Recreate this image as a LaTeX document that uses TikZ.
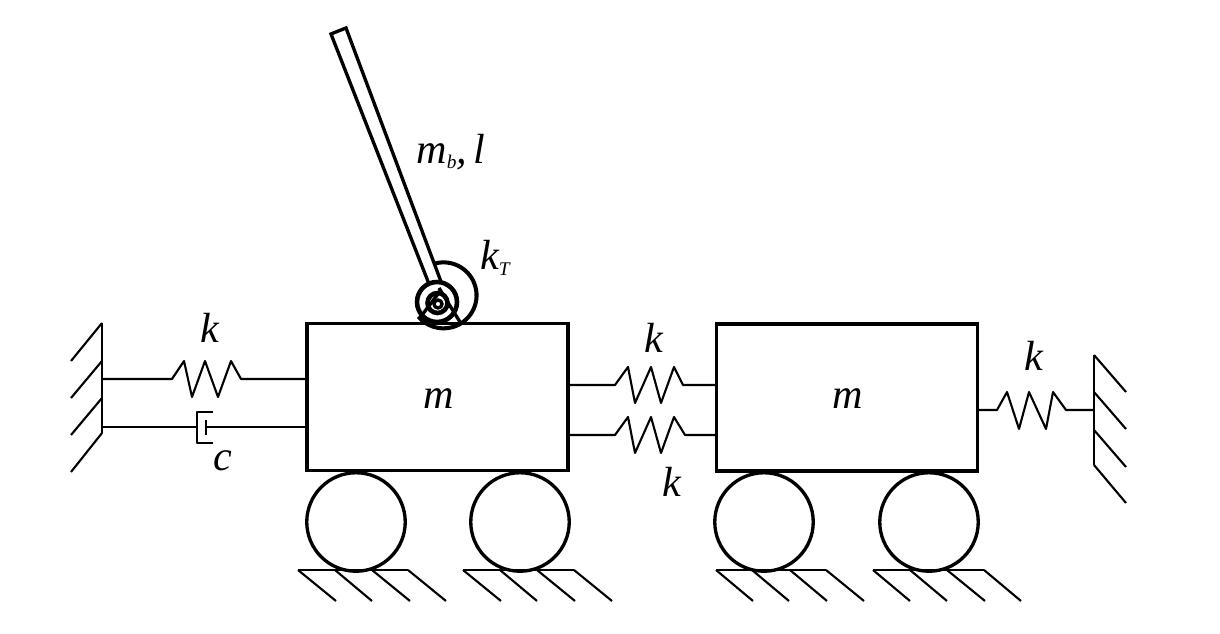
\documentclass[tikz,border=0pt]{standalone}
\usepackage{fontspec}
\setmainfont{Liberation Serif}
\tikzset{
  massbox/.style={draw, line width=2.1pt, minimum width=5.22cm, minimum height=2.94cm, outer sep=0pt, inner sep=0pt},
  wheel/.style={draw, circle, line width=1.9pt, minimum size=1.97cm, outer sep=0pt, inner sep=0pt},
  springline/.style={line width=1.2pt, line join=round},
  baseline/.style={line width=1.2pt},
  barline/.style={line width=1.9pt, line join=miter},
  hingeline/.style={line width=2.6pt},
  lab/.style={inner sep=0pt, font=\fontsize{24}{24}\selectfont\itshape}
}
\begin{document}
\begin{tikzpicture}[x=0.02cm, y=-0.02cm]

  \useasboundingbox (0, 0) rectangle (1220, 634);

  % masses and wheels
  \node [massbox] (massA) at (437.5, 397) {};
  \node [massbox] (massB) at (847, 397.5) {};
  \node [wheel] (wheelA) at (356, 522) {};
  \node [wheel] (wheelB) at (520, 522) {};
  \node [wheel] (wheelC) at (764, 522) {};
  \node [wheel] (wheelD) at (929, 522) {};

  % walls
  \draw[baseline] (102, 323) -- (102, 433);
  \draw[baseline] (102, 323) -- (71, 361);
  \draw[baseline] (102, 361) -- (71, 398);
  \draw[baseline] (102, 398) -- (71, 435);
  \draw[baseline] (102, 433) -- (71, 472);

  \draw[baseline] (1094, 355) -- (1094, 465);
  \draw[baseline] (1094, 355) -- (1126, 392);
  \draw[baseline] (1094, 392) -- (1126, 429);
  \draw[baseline] (1094, 430) -- (1126, 467);
  \draw[baseline] (1094, 465) -- (1126, 503);

  % ground
  \draw[baseline] (298, 570) -- (408, 570);
  \draw[baseline] (298, 570) -- (336, 601);
  \draw[baseline] (335, 570) -- (372, 601);
  \draw[baseline] (372, 570) -- (410, 601);
  \draw[baseline] (408, 570) -- (446, 601);

  \draw[baseline] (463, 570) -- (574, 570);
  \draw[baseline] (463, 570) -- (501, 601);
  \draw[baseline] (500, 570) -- (537, 601);
  \draw[baseline] (537, 570) -- (575, 601);
  \draw[baseline] (574, 570) -- (612, 601);

  \draw[baseline] (716, 570) -- (826, 570);
  \draw[baseline] (716, 570) -- (753, 601);
  \draw[baseline] (752, 570) -- (789, 601);
  \draw[baseline] (790, 570) -- (827, 601);
  \draw[baseline] (826, 570) -- (864, 601);

  \draw[baseline] (873, 570) -- (984, 570);
  \draw[baseline] (873, 570) -- (910, 601);
  \draw[baseline] (910, 570) -- (947, 601);
  \draw[baseline] (947, 570) -- (985, 601);
  \draw[baseline] (984, 570) -- (1021, 601);

  % springs
  \coordinate (wallAk) at (102, 379);
  \coordinate (wallAc) at (102, 427);
  \coordinate (wallBk) at (1094, 410);
  \coordinate (midtop) at (569, 385);
  \coordinate (midbot) at (569, 435);
  \coordinate (massBk) at (978, 410);

  \draw[springline] (wallAk) -- (172, 379) -- ++(12, -18) -- ++(8, 36) -- ++(13, -36) -- ++(13, 36) -- ++(13, -36) -- ++(10, 18) -- (massA.west |- wallAk);
  \draw[springline] (midtop) -- (615, 385) -- ++(13, -18) -- ++(7, 36) -- ++(16, -36) -- ++(10, 36) -- ++(13, -36) -- ++(9, 18) -- (massB.west |- midtop);
  \draw[springline] (midbot) -- (615, 435) -- ++(13, -18) -- ++(7, 36) -- ++(16, -36) -- ++(10, 36) -- ++(13, -36) -- ++(11, 18) -- (massB.west |- midbot);
  \draw[springline] (massBk) -- (997, 410) -- ++(10, -18) -- ++(12, 37) -- ++(10, -37) -- ++(17, 37) -- ++(7, -37) -- ++(13, 18) -- (wallBk);

  % damper
  \coordinate (pistonc) at (206, 427);
  \draw[springline] (wallAc) -- (197, 427);
  \draw[springline] (213, 412) -- (197, 412) -- (197, 443) -- (213, 443);
  \draw[line width=1.4pt] (206, 420) -- (206, 435);
  \draw[springline] (pistonc) -- (massA.west |- pistonc);

  % bar and hinge
  \draw[barline] (429, 284) -- (331, 34) -- (346, 28) -- (441.5, 283);
  \draw[line width=1.9pt] (441, 290) -- (422, 315);
  \draw[line width=1.9pt] (439, 288) -- (460, 322);
  \draw[hingeline] (437, 302) circle (20);
  \draw[hingeline] (437.5, 303) circle (10);
  \draw[line width=1.9pt] (438, 304) circle (4);
  \draw[line width=2.3pt] (435, 263.5) arc[start angle=-105, end angle=140, radius=33];

  % labels
  \node [lab] (labkA) at (210, 328) {k};
  \node [lab] (labc) at (223, 461) {c};
  \node [lab] (labkB) at (654, 338) {k};
  \node [lab] (labkC) at (672, 482) {k};
  \node [lab] (labkD) at (1034, 356) {k};
  \node [lab] (labmA) at (439, 399) {m};
  \node [lab] (labmB) at (848, 399) {m};
  \node [lab] (labbar) at (451, 152) {m\lower3pt\hbox{\fontsize{11}{11}\selectfont b},\,l};
  \node [lab] (labkT) at (495, 258) {k\lower3pt\hbox{\fontsize{11}{11}\selectfont T}};

\end{tikzpicture}
\end{document}
